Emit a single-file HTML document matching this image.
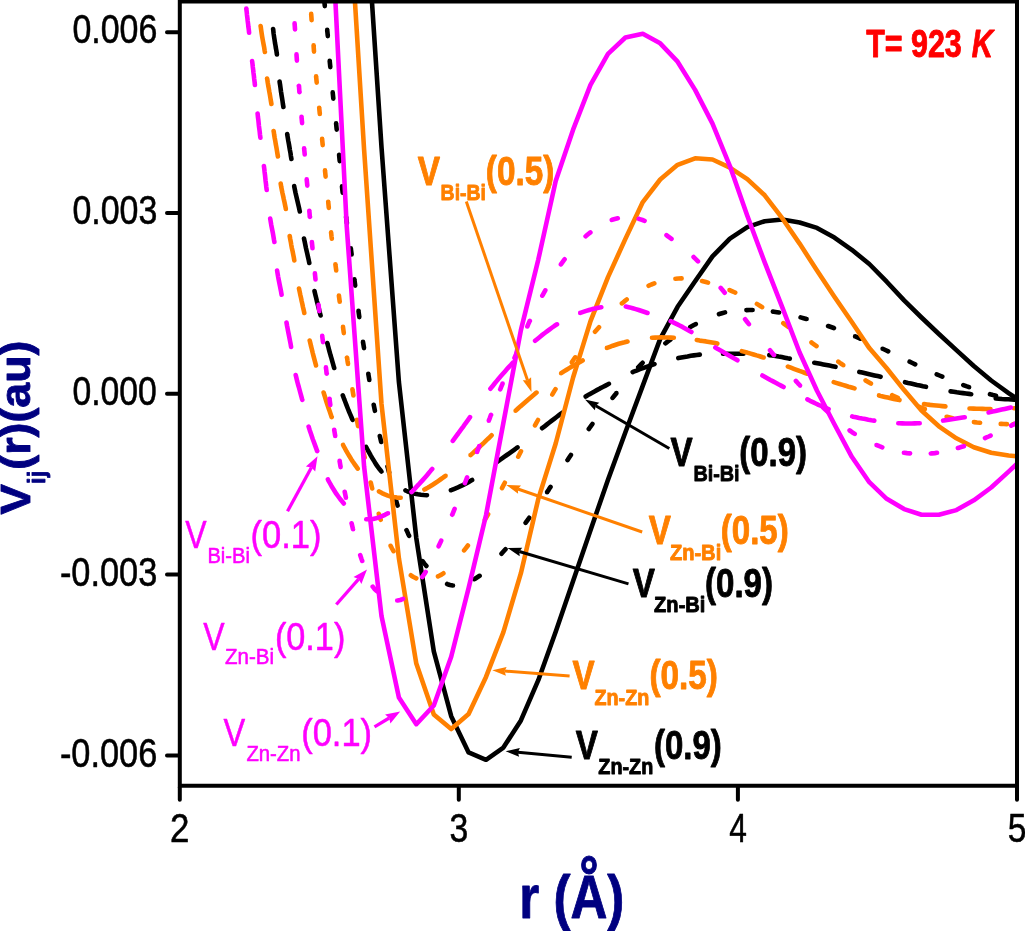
<!DOCTYPE html>
<html lang="en"><head><meta charset="utf-8"><title>Pair potentials V_ij(r), T = 923 K</title>
<style>
html,body{margin:0;padding:0;background:#fff;}
body{width:1025px;height:931px;overflow:hidden;}
svg{display:block;font-family:"Liberation Sans",Arial,Helvetica,sans-serif;}
</style></head><body>
<svg width="1025" height="931" viewBox="0 0 1025 931">
<rect width="1025" height="931" fill="#fff"/>
<defs><clipPath id="plot"><rect x="180" y="2" width="837.5" height="784"/></clipPath></defs>
<g clip-path="url(#plot)">
<path d="M370.2 -25.0 L381.5 147.1 L398.9 382.1 L416.3 538.1 L433.8 651.3 L451.2 716.2 L468.6 752.4 L486.0 759.8 L503.4 747.6 L520.9 720.4 L538.3 680.2 L555.7 631.7 L573.1 581.1 L590.5 530.2 L608.0 479.7 L625.4 432.3 L642.8 385.6 L660.2 338.9 L677.6 306.8 L695.1 281.2 L712.5 256.4 L729.9 238.6 L747.3 227.1 L764.7 221.2 L782.2 219.5 L799.6 222.5 L817.0 227.9 L834.4 237.6 L851.8 249.8 L869.3 264.0 L886.7 281.7 L904.1 300.4 L921.5 317.5 L938.9 334.0 L956.4 350.1 L973.8 366.0 L991.2 380.5 L1008.6 393.1 L1016.5 398.5" fill="none" stroke="#000" stroke-width="4.6" stroke-linejoin="round" stroke-linecap="butt"/>
<path d="M322.0 -25.0 L322.3 -22.0 L322.3 -21.9 M324.2 -0.1 L324.5 3.0 L324.8 5.9 L324.8 6.1 M327.2 29.9 L327.2 30.0 L327.5 33.0 L327.8 36.0 L327.8 36.1 M329.7 60.9 L329.7 61.0 L330.0 64.0 L330.3 67.0 L330.3 67.1 M332.7 92.4 L332.7 92.5 L333.0 95.5 L333.3 98.5 L333.3 98.6 M336.1 123.4 L336.1 123.5 L336.4 126.5 L336.7 129.5 L336.7 129.6 M339.1 154.9 L339.4 158.0 L339.7 161.1 M342.0 186.4 L342.0 186.5 L342.3 189.5 L342.7 192.6 M346.1 216.9 L346.2 217.9 L346.6 221.0 L346.9 223.1 M350.8 248.3 L350.8 248.4 L351.2 251.4 L351.6 254.4 L351.6 254.5 M354.4 279.4 L354.4 279.5 L354.8 282.5 L355.2 285.5 L355.2 285.6 M358.5 310.9 L358.5 311.0 L358.9 314.0 L359.3 317.0 L359.3 317.1 M363.0 341.9 L363.0 342.0 L363.5 345.0 L364.0 348.0 L364.0 348.1 M368.3 373.7 L368.3 373.8 L368.8 376.8 L369.3 379.8 L369.3 379.9 M373.7 404.8 L374.3 407.8 L374.9 410.8 M379.8 436.0 L380.5 439.0 L381.2 442.0 M387.5 466.5 L387.8 467.5 L388.5 470.4 L389.1 472.5 M395.8 499.6 L395.9 499.8 L396.7 502.6 L397.6 505.6 M406.5 530.2 L407.0 531.1 L408.2 533.9 L409.1 535.8 M422.5 561.1 L422.6 561.2 L424.4 563.6 L426.4 566.0 M447.1 584.0 L447.6 584.2 L450.0 585.0 L452.8 585.5 L453.0 585.5 M474.3 579.1 L475.1 578.7 L477.7 577.0 L479.6 575.8 M501.5 553.8 L502.1 553.1 L504.1 550.8 L505.5 549.2 M525.6 522.8 L525.7 522.7 L527.4 520.3 L529.2 517.8 M547.1 492.2 L547.1 492.1 L548.8 489.6 L550.4 487.1 L550.5 487.0 M567.5 460.1 L567.6 460.0 L569.2 457.5 L570.9 454.9 M588.8 429.0 L589.4 428.2 L591.2 425.7 L592.4 424.0 M612.6 397.9 L614.5 395.5 L616.4 393.2 L616.4 393.1 M638.2 367.2 L638.4 367.1 L640.4 365.0 L642.6 362.8 M665.4 343.3 L665.7 343.1 L667.9 341.4 L670.4 339.6 M690.3 327.0 L691.2 326.5 L693.9 325.0 L695.8 324.1 M719.0 314.1 L719.2 314.0 L722.0 313.2 L725.0 312.4 M746.4 310.1 L746.5 310.1 L749.5 310.0 L752.6 310.0 M772.9 311.6 L773.9 311.7 L777.0 312.2 L779.1 312.5 M800.6 317.4 L803.6 318.2 L806.5 319.0 L806.6 319.0 M828.1 326.0 L831.0 327.0 L833.8 328.0 L833.9 328.1 M855.1 336.4 L855.2 336.4 L858.0 337.6 L860.7 338.8 L860.9 338.8 M882.6 348.7 L882.7 348.7 L885.4 350.0 L888.2 351.3 M909.6 361.7 L912.4 363.0 L915.2 364.3 M936.7 374.3 L939.5 375.5 L942.3 376.7 M963.3 385.1 L966.2 386.2 L969.1 387.2 L969.1 387.3 M990.0 394.2 L990.3 394.3 L993.0 395.0 L996.0 395.7 M1013.4 398.5 L1013.5 398.5 L1016.5 399.0" fill="none" stroke="#000" stroke-width="4.6" stroke-linecap="round" stroke-linejoin="round"/>
<path d="M273.1 29.0 L273.2 29.5 L273.6 33.5 L274.1 37.0 L274.6 40.2 L275.0 43.0 L275.5 45.7 L275.9 48.3 L276.4 50.9 L276.8 53.6 L276.9 54.5 M279.6 81.5 L279.7 82.5 L280.2 85.5 L280.6 88.5 L281.0 91.6 L281.5 94.8 L282.0 97.9 L282.5 101.0 L282.9 104.0 L283.4 107.0 M287.2 134.0 L287.3 134.9 L287.8 137.9 L288.3 140.9 L288.9 144.0 L289.4 147.0 L289.9 150.1 L290.5 153.1 L290.9 156.1 L291.4 159.0 M294.2 186.0 L294.3 186.9 L294.9 189.8 L295.5 192.7 L296.2 195.7 L296.9 198.8 L297.6 201.8 L298.3 204.8 L299.0 207.7 L299.6 210.6 L299.8 211.5 M304.0 238.5 L304.2 239.4 L304.8 242.3 L305.4 245.3 L306.0 248.2 L306.7 251.2 L307.4 254.2 L308.0 257.1 L308.7 260.1 L309.3 263.0 M314.5 291.0 L314.7 291.9 L315.4 294.9 L316.1 297.8 L316.8 300.8 L317.6 303.8 L318.3 306.7 L319.1 309.7 L319.8 312.6 L320.6 315.5 M327.3 343.0 L327.5 343.9 L328.3 346.8 L329.0 349.6 L329.8 352.6 L330.6 355.5 L331.5 358.4 L332.3 361.4 L333.1 364.2 L333.9 367.1 L334.2 368.0 M342.8 395.4 L343.2 396.4 L344.2 399.2 L345.3 402.0 L346.4 404.8 L347.5 407.7 L348.6 410.5 L349.8 413.3 L351.0 416.2 L352.2 419.0 L352.6 419.9 M366.0 446.9 L366.4 447.7 L367.9 450.3 L369.3 452.9 L370.8 455.6 L372.4 458.3 L374.0 460.9 L375.6 463.6 L377.3 466.1 L379.0 468.5 L380.9 470.8 L381.4 471.5 M405.5 490.4 L405.6 490.5 L408.6 491.8 L411.7 492.8 L414.8 493.7 L417.9 494.3 L421.0 494.7 L424.0 495.0 L427.0 495.2 M450.9 490.2 L451.8 489.9 L454.5 488.8 L457.3 487.7 L460.0 486.4 L462.8 485.1 L465.6 483.7 L468.4 482.2 L471.1 480.6 L472.1 480.0 M497.1 461.9 L499.6 460.1 L502.1 458.4 L504.5 456.7 L506.9 455.0 L509.3 453.3 L511.7 451.6 L514.2 449.8 L516.6 448.0 L517.5 447.4 M542.1 428.2 L544.6 426.3 L547.0 424.4 L549.4 422.5 L551.8 420.6 L554.2 418.8 L556.6 417.0 L559.0 415.2 L561.4 413.4 L562.2 412.8 M585.7 396.5 L586.5 396.0 L589.1 394.4 L591.8 392.9 L594.5 391.4 L597.3 389.9 L600.0 388.4 L602.8 387.0 L605.5 385.6 L608.1 384.2 L608.9 383.8 M632.7 372.1 L633.6 371.7 L636.5 370.6 L639.3 369.4 L642.2 368.4 L645.1 367.3 L648.0 366.3 L650.9 365.3 L653.7 364.4 L654.5 364.1 M678.3 358.1 L681.3 357.5 L684.4 356.9 L687.5 356.4 L690.7 355.8 L693.8 355.4 L696.8 355.0 L699.8 354.6 M723.0 353.8 L724.0 353.8 L727.0 353.7 L730.0 353.7 L733.1 353.7 L736.2 353.7 L739.3 353.7 L742.4 353.8 L743.5 353.8 M769.3 355.1 L772.5 355.5 L775.6 356.0 L778.6 356.6 L781.7 357.1 L784.7 357.7 L787.7 358.3 L789.8 358.6 M814.3 362.7 L817.3 363.2 L820.4 363.8 L823.4 364.4 L826.5 365.0 L829.5 365.6 L832.5 366.2 L835.5 366.8 M859.3 371.9 L862.3 372.6 L865.3 373.3 L868.4 374.0 L871.5 374.7 L874.5 375.4 L877.6 376.1 L880.6 376.8 M905.0 382.2 L908.0 382.9 L911.0 383.5 L914.0 384.2 L917.0 384.9 L920.0 385.5 L923.0 386.2 L926.0 386.8 M950.6 391.4 L953.7 391.8 L956.8 392.3 L959.9 392.7 L963.0 393.1 L966.0 393.5 L969.1 393.9 L971.2 394.2 M995.7 398.4 L995.8 398.4 L998.9 398.7 L1002.0 399.0 L1005.1 399.2 L1008.2 399.3 L1011.3 399.5 L1014.4 399.7 L1015.5 399.7" fill="none" stroke="#000" stroke-width="4.6" stroke-linecap="round" stroke-linejoin="round"/>
<path d="M353.3 -25.0 L364.1 149.7 L381.5 403.9 L398.9 558.4 L416.3 663.6 L433.8 714.4 L451.2 729.0 L468.6 713.9 L486.0 676.9 L503.4 632.1 L520.9 573.2 L538.3 498.9 L555.7 443.5 L573.1 377.5 L590.5 321.1 L608.0 277.1 L625.4 238.9 L642.8 202.1 L660.2 179.5 L677.6 164.8 L695.1 158.3 L712.5 159.5 L729.9 167.7 L747.3 179.1 L764.7 195.3 L782.2 218.2 L799.6 243.6 L817.0 270.5 L834.4 296.8 L851.8 322.0 L869.3 348.1 L886.7 368.3 L904.1 390.1 L921.5 410.5 L938.9 426.3 L956.4 438.3 L973.8 447.2 L991.2 452.7 L1008.6 455.5 L1016.5 456.3" fill="none" stroke="#ff8000" stroke-width="4.6" stroke-linejoin="round" stroke-linecap="butt"/>
<path d="M308.5 -25.0 L308.7 -22.0 L308.7 -21.9 M311.2 13.9 L311.2 14.3 L311.4 17.0 L311.6 20.1 M313.6 45.4 L313.6 45.5 L313.8 48.5 L314.0 51.5 L314.0 51.6 M316.1 76.4 L316.1 76.5 L316.4 79.5 L316.7 82.5 L316.7 82.6 M319.2 107.7 L319.2 107.8 L319.5 110.8 L319.8 113.8 L319.8 113.9 M322.1 138.9 L322.1 139.0 L322.4 142.0 L322.7 145.0 L322.7 145.1 M325.0 170.4 L325.0 170.5 L325.3 173.5 L325.6 176.5 L325.6 176.6 M328.2 201.7 L328.2 201.8 L328.5 204.8 L328.8 207.9 M331.1 232.4 L331.2 233.4 L331.5 236.5 L331.8 238.6 M335.4 264.2 L335.4 264.3 L335.8 267.3 L336.2 270.3 L336.2 270.4 M338.9 295.5 L338.9 295.6 L339.3 298.6 L339.7 301.6 L339.7 301.7 M343.0 326.9 L343.0 327.0 L343.4 330.0 L343.8 333.0 L343.8 333.1 M347.0 357.7 L347.1 357.8 L347.5 360.8 L348.0 363.8 L348.0 363.9 M352.4 389.2 L352.4 389.3 L352.9 392.3 L353.4 395.3 L353.4 395.4 M357.0 419.9 L357.0 420.0 L357.5 423.0 L358.0 425.9 L358.1 426.0 M363.3 451.5 L363.3 451.6 L364.0 454.5 L364.7 457.5 M370.7 482.5 L371.0 483.5 L371.7 486.5 L372.2 488.5 M378.8 513.8 L379.7 516.8 L380.6 519.6 L380.7 519.8 M390.5 545.8 L390.6 545.8 L392.0 548.5 L393.5 551.2 M410.9 575.3 L411.4 575.7 L413.5 577.0 L416.3 578.3 M438.0 576.4 L438.8 576.0 L441.5 574.6 L443.4 573.3 M464.1 550.4 L464.7 549.6 L466.6 547.2 L467.9 545.5 M484.9 519.7 L485.0 519.5 L486.5 517.0 L488.1 514.3 M502.0 488.1 L503.4 485.4 L504.8 482.7 M518.2 456.7 L519.6 454.0 L521.0 451.3 M535.0 425.4 L536.5 422.7 L538.0 420.0 M552.3 394.5 L552.8 393.6 L554.4 390.9 L555.5 389.1 M571.8 362.4 L571.8 362.3 L573.5 359.8 L575.2 357.3 L575.3 357.3 M595.0 331.8 L597.0 329.5 L599.0 327.2 M621.9 303.4 L622.2 303.2 L624.3 301.4 L626.7 299.5 M648.6 285.8 L648.8 285.7 L651.4 284.5 L654.3 283.4 M675.4 278.7 L675.5 278.7 L678.5 278.5 L681.6 278.4 M702.0 281.1 L702.9 281.3 L705.9 282.0 L708.0 282.6 M729.5 290.1 L729.6 290.1 L732.4 291.3 L735.1 292.5 L735.2 292.6 M756.9 303.9 L757.7 304.4 L760.3 306.0 L762.1 307.2 M783.3 323.2 L784.1 323.8 L786.6 325.6 L788.3 326.8 M811.5 342.5 L811.6 342.6 L814.0 344.3 L816.5 346.1 M838.3 361.7 L840.8 363.5 L843.3 365.2 L843.3 365.3 M865.6 380.4 L865.7 380.5 L868.2 382.0 L870.9 383.6 M892.2 395.1 L892.3 395.2 L895.0 396.5 L897.8 397.8 M919.1 406.9 L919.2 406.9 L922.0 408.0 L924.8 409.1 L924.9 409.1 M946.6 416.7 L946.8 416.7 L949.6 417.5 L952.6 418.3 M973.9 422.1 L974.0 422.1 L977.0 422.5 L980.1 422.8 M1000.7 423.9 L1001.3 423.9 L1003.8 424.0 L1006.9 424.1 M1013.4 424.0 L1013.7 424.0 L1016.5 424.0" fill="none" stroke="#ff8000" stroke-width="4.6" stroke-linecap="round" stroke-linejoin="round"/>
<path d="M260.6 26.0 L260.7 26.4 L261.2 30.2 L261.7 33.6 L262.2 36.8 L262.7 39.7 L263.2 42.4 L263.7 45.0 L264.2 47.6 L264.6 50.3 L264.9 52.0 M267.1 78.5 L267.3 79.4 L267.7 82.4 L268.2 85.5 L268.8 88.6 L269.3 91.7 L269.9 94.9 L270.4 98.0 L270.9 101.0 L271.4 104.0 M273.6 131.0 L273.8 132.0 L274.2 135.0 L274.7 138.0 L275.3 141.1 L275.8 144.3 L276.4 147.4 L276.9 150.5 L277.4 153.5 L277.9 156.5 M280.7 183.5 L280.8 184.4 L281.3 187.3 L281.9 190.2 L282.5 193.2 L283.2 196.2 L283.8 199.3 L284.5 202.3 L285.1 205.2 L285.7 208.1 L285.8 209.0 M289.7 236.0 L290.2 239.0 L290.8 242.0 L291.3 245.1 L291.9 248.2 L292.6 251.3 L293.2 254.4 L293.8 257.4 L294.3 260.5 M299.0 288.5 L299.2 289.4 L299.8 292.4 L300.4 295.3 L301.1 298.3 L301.7 301.3 L302.4 304.2 L303.0 307.2 L303.7 310.1 L304.3 313.0 M309.7 340.5 L310.4 343.4 L311.1 346.4 L311.9 349.5 L312.6 352.5 L313.4 355.6 L314.2 358.6 L315.0 361.6 L315.8 364.6 L316.0 365.5 M323.6 392.5 L323.9 393.4 L324.8 396.3 L325.7 399.3 L326.6 402.2 L327.6 405.2 L328.6 408.2 L329.6 411.1 L330.6 414.1 L331.6 417.0 L331.7 417.1 M343.1 444.9 L343.5 445.8 L345.0 448.5 L346.4 451.2 L348.0 453.9 L349.6 456.5 L351.2 459.2 L352.9 461.8 L354.7 464.4 L356.5 466.9 L357.7 468.6 M379.0 491.4 L379.1 491.5 L381.9 493.1 L384.8 494.4 L387.8 495.6 L390.8 496.5 L393.9 497.1 L396.9 497.6 L399.8 497.8 L400.7 497.8 M424.4 489.5 L425.2 489.1 L427.7 487.8 L430.2 486.3 L432.7 484.7 L435.3 483.0 L437.8 481.3 L440.4 479.5 L443.0 477.7 L445.5 475.8 L445.6 475.8 M470.5 455.1 L470.6 455.1 L472.8 453.1 L475.1 451.0 L477.4 448.9 L479.6 446.8 L481.8 444.7 L484.1 442.6 L486.3 440.4 L488.6 438.3 L490.8 436.1 L491.6 435.3 M515.6 410.7 L515.7 410.7 L518.0 408.5 L520.3 406.4 L522.6 404.4 L524.9 402.4 L527.2 400.4 L529.5 398.5 L531.9 396.5 L534.2 394.6 L536.5 392.6 M561.1 373.2 L561.2 373.2 L563.9 371.4 L566.6 369.7 L569.2 368.1 L571.9 366.5 L574.6 365.0 L577.3 363.4 L580.0 362.0 L582.6 360.5 M606.9 347.9 L607.0 347.9 L609.9 346.8 L612.8 345.7 L615.8 344.7 L618.7 343.8 L621.7 343.0 L624.6 342.3 L627.5 341.5 M652.0 337.7 L655.1 337.6 L658.2 337.5 L661.4 337.4 L664.6 337.5 L667.7 337.5 L670.8 337.6 L673.8 337.8 M696.8 340.1 L699.8 340.6 L702.8 341.0 L705.9 341.4 L709.0 341.9 L712.1 342.5 L715.2 343.1 L717.3 343.6 M741.8 351.1 L744.7 351.9 L747.7 352.8 L750.7 353.6 L753.6 354.5 L756.6 355.4 L759.6 356.2 L762.6 357.2 L763.6 357.5 M787.9 366.6 L788.0 366.7 L790.9 367.7 L793.8 368.8 L796.6 369.8 L799.4 370.9 L802.3 371.9 L805.2 373.0 L807.4 373.7 M833.7 382.1 L836.8 383.1 L839.8 384.0 L842.7 384.9 L845.7 385.8 L848.6 386.7 L851.6 387.5 L854.5 388.4 M879.0 395.4 L879.0 395.5 L881.9 396.2 L884.8 396.9 L887.8 397.6 L890.7 398.3 L893.7 398.9 L896.6 399.5 L899.5 400.1 M924.0 404.1 L927.0 404.5 L930.1 404.9 L933.2 405.2 L936.3 405.5 L939.3 405.8 L942.4 406.1 L945.4 406.4 M969.5 408.5 L970.5 408.5 L973.5 408.6 L976.5 408.8 L979.5 408.8 L982.6 408.9 L985.6 409.0 L988.6 409.0 L990.5 409.0 M1014.0 408.3 L1015.5 408.3 L1015.5 408.2" fill="none" stroke="#ff8000" stroke-width="4.6" stroke-linecap="round" stroke-linejoin="round"/>
<path d="M334.1 -25.0 L346.7 226.1 L364.1 466.6 L381.5 615.9 L398.9 697.5 L416.3 724.2 L433.8 705.5 L451.2 656.7 L468.6 588.1 L486.0 515.3 L503.4 422.8 L520.9 330.1 L538.3 259.6 L555.7 181.1 L573.1 129.7 L590.5 84.9 L608.0 53.9 L625.4 37.5 L642.8 33.8 L660.2 43.3 L677.6 61.7 L695.1 89.9 L712.5 123.6 L729.9 166.1 L747.3 215.8 L764.7 262.4 L782.2 307.1 L799.6 352.5 L817.0 390.8 L834.4 424.2 L851.8 456.8 L869.3 482.2 L886.7 498.8 L904.1 509.1 L921.5 514.7 L938.9 514.8 L956.4 510.1 L973.8 500.3 L991.2 487.5 L1008.6 471.6 L1016.5 464.3" fill="none" stroke="#ff00ff" stroke-width="4.6" stroke-linejoin="round" stroke-linecap="butt"/>
<path d="M291.5 -25.0 L291.7 -21.9 M294.6 23.2 L294.6 23.8 L294.8 26.3 L295.0 29.4 M296.5 54.4 L296.5 54.6 L296.7 57.5 L296.9 60.5 L296.9 60.6 M298.9 85.9 L299.0 86.0 L299.2 89.0 L299.4 92.0 L299.5 92.1 M301.5 116.9 L301.5 117.0 L301.8 120.0 L302.1 123.0 L302.1 123.1 M304.1 148.2 L304.1 148.3 L304.4 151.3 L304.7 154.3 L304.7 154.4 M306.7 179.4 L306.7 179.5 L307.0 182.5 L307.3 185.5 L307.3 185.6 M309.3 210.7 L309.3 210.8 L309.6 213.8 L309.8 216.8 L309.9 216.9 M311.9 242.1 L311.9 242.2 L312.2 245.2 L312.5 248.2 L312.5 248.3 M314.9 273.3 L314.9 273.4 L315.2 276.4 L315.5 279.4 L315.5 279.5 M318.5 304.9 L318.5 305.0 L318.9 308.0 L319.3 311.0 L319.3 311.1 M322.2 335.9 L322.2 336.0 L322.6 339.0 L323.0 342.0 L323.0 342.1 M325.9 367.4 L325.9 367.5 L326.3 370.5 L326.6 373.5 L326.7 373.6 M329.5 398.7 L329.5 398.8 L329.9 401.8 L330.3 404.8 L330.3 404.9 M334.2 429.7 L334.2 429.8 L334.7 432.8 L335.2 435.8 L335.2 435.9 M339.6 460.9 L339.6 461.0 L340.1 464.0 L340.6 467.0 L340.6 467.1 M344.7 491.8 L345.3 494.8 L345.9 497.7 L345.9 497.8 M351.6 523.3 L352.3 526.3 L353.0 529.3 L353.1 529.3 M360.2 555.1 L360.5 556.0 L361.5 559.0 L362.2 560.9 M372.7 586.6 L372.9 586.9 L374.6 589.0 L376.8 591.2 M397.2 600.5 L397.5 600.5 L400.3 600.0 L402.5 599.1 L403.1 598.8 M422.2 577.0 L422.8 576.2 L424.6 573.7 L425.7 571.9 M438.6 546.3 L439.9 543.5 L441.2 540.7 M452.2 514.7 L452.3 514.6 L453.4 511.8 L454.6 508.9 M464.9 483.2 L466.0 480.3 L467.1 477.4 M477.1 451.9 L477.1 451.8 L478.2 449.0 L479.3 446.2 L479.3 446.1 M488.8 420.7 L488.8 420.6 L489.9 417.8 L490.9 415.0 L491.0 414.9 M500.2 389.3 L500.3 389.2 L501.4 386.4 L502.6 383.6 L502.6 383.5 M514.5 358.0 L515.7 355.2 L516.9 352.4 L516.9 352.3 M527.2 326.5 L527.3 326.5 L528.5 323.7 L529.7 321.0 L529.8 320.9 M542.3 295.7 L542.8 294.8 L544.3 292.1 L545.3 290.3 M560.9 264.3 L562.7 261.8 L564.5 259.4 L564.6 259.3 M585.6 236.3 L585.9 236.1 L588.0 234.3 L590.4 232.4 M611.8 219.9 L612.1 219.8 L614.8 219.0 L617.8 218.3 M638.7 218.8 L639.6 219.1 L642.5 220.0 L644.6 220.8 M666.5 235.2 L667.3 235.8 L669.8 237.6 L671.5 238.8 M693.6 257.0 L694.2 257.7 L696.5 259.9 L698.0 261.4 M720.7 287.9 L720.8 288.0 L722.7 290.3 L724.7 292.7 M745.1 319.3 L747.0 321.7 L748.9 324.1 M770.0 350.3 L772.0 352.7 L773.9 355.0 L774.0 355.1 M795.9 381.0 L796.0 381.1 L798.0 383.3 L800.1 385.5 L800.1 385.6 M823.2 407.7 L823.4 407.9 L825.5 409.8 L827.8 411.9 M849.6 430.4 L849.7 430.5 L852.1 432.2 L854.7 433.9 M876.5 445.1 L876.7 445.1 L879.4 446.2 L882.3 447.3 M903.9 452.7 L904.1 452.7 L907.0 453.1 L910.1 453.4 M930.8 453.5 L931.8 453.4 L934.9 453.1 L937.0 452.8 M957.9 448.0 L958.9 447.7 L961.9 446.8 L963.9 446.2 M985.0 438.1 L985.9 437.7 L988.7 436.5 L990.6 435.6 M1011.2 425.6 L1011.6 425.4 L1013.5 424.5 L1016.7 422.9 M1014.2 424.1 L1016.7 422.9 L1016.5 423.0" fill="none" stroke="#ff00ff" stroke-width="4.6" stroke-linecap="round" stroke-linejoin="round"/>
<path d="M246.3 8.5 L246.3 8.6 L246.7 11.9 L247.0 15.0 L247.4 18.1 L247.7 21.0 L248.1 24.0 L248.4 26.9 L248.8 29.8 L249.1 32.8 M252.1 61.0 L252.5 64.0 L252.8 67.0 L253.2 70.0 L253.5 73.0 L253.9 76.0 L254.2 79.0 L254.6 82.0 L254.9 85.0 M257.6 113.5 L257.9 116.6 L258.3 119.6 L258.6 122.6 L258.9 125.7 L259.3 128.7 L259.7 131.7 L260.0 134.8 L260.4 137.8 M263.9 166.0 L264.3 169.0 L264.6 172.0 L265.0 175.0 L265.3 178.0 L265.6 181.0 L266.0 184.0 L266.3 187.0 L266.7 190.0 M270.2 218.5 L270.7 221.6 L271.2 224.7 L271.8 227.7 L272.4 230.8 L273.0 233.8 L273.5 236.8 L274.0 239.9 L274.4 242.0 M277.1 270.5 L277.6 273.6 L278.1 276.6 L278.7 279.7 L279.3 282.7 L279.9 285.7 L280.5 288.8 L281.1 291.8 L281.6 294.8 M286.5 322.5 L287.0 325.5 L287.6 328.6 L288.2 331.7 L288.8 334.7 L289.4 337.8 L290.0 340.9 L290.6 343.9 L291.1 347.0 M295.7 375.0 L296.4 377.9 L297.1 380.9 L297.9 384.0 L298.8 387.0 L299.6 390.0 L300.4 393.0 L301.2 395.9 L302.0 398.9 L302.3 399.8 M308.6 426.6 L308.9 427.5 L309.8 430.4 L310.8 433.3 L311.8 436.2 L312.8 439.2 L313.9 442.1 L315.0 445.1 L316.1 448.1 L317.1 451.0 L317.2 451.1 M327.9 479.4 L328.3 480.3 L329.8 483.0 L331.3 485.7 L333.0 488.4 L334.7 491.2 L336.4 493.9 L338.3 496.5 L340.1 499.0 L342.0 501.3 L343.8 503.5 M366.3 519.2 L367.2 519.3 L370.1 519.3 L373.0 519.0 L376.0 518.3 L379.0 517.4 L382.0 516.2 L385.0 514.8 L387.9 513.2 L388.0 513.2 M411.6 492.0 L412.3 491.3 L414.4 489.1 L416.4 486.9 L418.5 484.7 L420.6 482.4 L422.7 480.1 L424.8 477.7 L426.8 475.4 L428.8 473.0 L430.8 470.6 L432.2 469.0 M452.8 440.9 L454.6 438.4 L456.4 435.9 L458.2 433.5 L459.9 431.1 L461.7 428.7 L463.5 426.3 L465.2 423.8 L467.0 421.4 L468.8 418.9 L470.0 417.2 M490.4 388.7 L491.0 388.0 L492.9 385.7 L494.8 383.3 L496.8 380.9 L498.8 378.5 L500.9 376.1 L502.9 373.8 L505.0 371.4 L507.0 369.1 L509.0 366.9 L511.0 364.8 L512.8 362.7 M535.1 340.8 L537.4 338.9 L539.8 336.9 L542.3 334.9 L544.8 333.0 L547.3 331.1 L549.7 329.3 L552.2 327.5 L554.6 325.8 L557.0 324.3 M580.2 312.9 L580.3 312.9 L583.2 311.9 L586.2 310.9 L589.2 310.0 L592.3 309.1 L595.3 308.4 L598.3 307.7 L601.3 307.2 M625.8 306.6 L626.7 306.8 L629.7 307.4 L632.7 308.2 L635.7 309.1 L638.7 310.0 L641.7 311.0 L644.7 312.0 L647.5 313.0 M670.7 321.2 L671.6 321.6 L674.2 322.8 L676.9 324.1 L679.6 325.5 L682.4 326.9 L685.1 328.4 L687.8 329.9 L690.5 331.5 L691.4 332.0 M715.4 347.5 L717.9 349.1 L720.6 350.6 L723.2 352.1 L725.9 353.7 L728.6 355.2 L731.2 356.7 L733.9 358.2 L736.6 359.8 L737.4 360.3 M762.4 375.5 L765.1 377.0 L767.7 378.5 L770.4 380.0 L773.1 381.4 L775.7 382.8 L778.4 384.3 L781.0 385.6 L783.6 387.0 M807.4 399.4 L810.1 400.8 L812.9 402.1 L815.7 403.5 L818.5 404.8 L821.3 406.0 L824.0 407.3 L826.8 408.4 L828.6 409.1 M852.2 416.4 L853.1 416.7 L856.1 417.3 L859.1 418.0 L862.2 418.6 L865.3 419.1 L868.4 419.7 L871.4 420.2 L874.3 420.6 M898.3 423.3 L899.3 423.3 L902.3 423.4 L905.4 423.5 L908.5 423.5 L911.6 423.5 L914.7 423.4 L917.7 423.3 L919.7 423.3 M943.1 420.6 L944.1 420.4 L947.1 420.0 L950.2 419.5 L953.3 419.0 L956.5 418.5 L959.6 418.0 L962.7 417.5 L964.7 417.2 M988.6 412.5 L989.5 412.3 L992.5 411.6 L995.5 411.0 L998.6 410.3 L1001.7 409.6 L1004.7 408.9 L1007.8 408.2 L1010.9 407.5" fill="none" stroke="#ff00ff" stroke-width="4.6" stroke-linecap="round" stroke-linejoin="round"/>
</g>
<path d="M179.8 1.6 H1017.0 V785.8 H179.8 Z" fill="none" stroke="#000" stroke-width="4" stroke-linejoin="miter"/>
<path d="M178.3 32.2 H167.0 M178.3 213.0 H167.0 M178.3 393.8 H167.0 M178.3 574.6 H167.0 M178.3 755.4 H167.0 M179.8 787.3 V799.8 M458.8 787.3 V799.8 M737.9 787.3 V799.8 M1017.0 787.3 V799.8" stroke="#000" stroke-width="4" stroke-linecap="round" fill="none"/>
<text transform="translate(72.4 43.3) scale(0.837 1)" font-size="40.6" fill="#000" font-weight="normal" font-style="normal" text-anchor="start" stroke="#000" stroke-width="0.55" stroke-linejoin="round">0.006</text>
<text transform="translate(72.4 224.1) scale(0.837 1)" font-size="40.6" fill="#000" font-weight="normal" font-style="normal" text-anchor="start" stroke="#000" stroke-width="0.55" stroke-linejoin="round">0.003</text>
<text transform="translate(72.4 404.9) scale(0.831 1)" font-size="40.6" fill="#000" font-weight="normal" font-style="normal" text-anchor="start" stroke="#000" stroke-width="0.55" stroke-linejoin="round">0.000</text>
<text transform="translate(59.9 585.7) scale(0.846 1)" font-size="40.6" fill="#000" font-weight="normal" font-style="normal" text-anchor="start" stroke="#000" stroke-width="0.55" stroke-linejoin="round">-0.003</text>
<text transform="translate(59.9 766.5) scale(0.846 1)" font-size="40.6" fill="#000" font-weight="normal" font-style="normal" text-anchor="start" stroke="#000" stroke-width="0.55" stroke-linejoin="round">-0.006</text>
<text transform="translate(170.0 841.9) scale(0.860 1)" font-size="40.6" fill="#000" font-weight="normal" font-style="normal" text-anchor="start" stroke="#000" stroke-width="0.55" stroke-linejoin="round">2</text>
<text transform="translate(449.6 841.9) scale(0.832 1)" font-size="40.6" fill="#000" font-weight="normal" font-style="normal" text-anchor="start" stroke="#000" stroke-width="0.55" stroke-linejoin="round">3</text>
<text transform="translate(729.2 841.9) scale(0.781 1)" font-size="40.6" fill="#000" font-weight="normal" font-style="normal" text-anchor="start" stroke="#000" stroke-width="0.55" stroke-linejoin="round">4</text>
<text transform="translate(1007.8 841.9) scale(0.832 1)" font-size="40.6" fill="#000" font-weight="normal" font-style="normal" text-anchor="start" stroke="#000" stroke-width="0.55" stroke-linejoin="round">5</text>
<text transform="translate(519.3 918.4) scale(0.830 1)" font-size="61.6" fill="#000080" font-weight="bold" stroke="#000080" stroke-width="0.9" stroke-linejoin="round">r (<tspan>A</tspan><tspan font-size="97" dx="-22.2" dy="9.2">̊</tspan><tspan dx="22.2" dy="-9.2">)</tspan></text>
<text transform="translate(29.7 514.5) rotate(-90) scale(1.062 1)" font-size="43.0" fill="#000080" font-weight="bold" stroke="#000080" stroke-width="0.90" stroke-linejoin="round">V</text>
<text transform="translate(44.9 483.9) rotate(-90) scale(0.956 1)" font-size="24.6" fill="#000080" font-weight="bold" stroke="#000080" stroke-width="0.90" stroke-linejoin="round">ij</text>
<text transform="translate(29.7 469.7) rotate(-90) scale(1.040 1)" font-size="43.0" fill="#000080" font-weight="bold" stroke="#000080" stroke-width="0.90" stroke-linejoin="round">(r)(au)</text>
<text transform="translate(866.2 56.5) scale(0.803 1)" font-size="37.9" fill="#ff0000" font-weight="bold" font-style="normal" text-anchor="start" stroke="#ff0000" stroke-width="0.90" stroke-linejoin="round">T= 923</text>
<text transform="translate(971.8 56.5) scale(0.776 1)" font-size="37.9" fill="#ff0000" font-weight="bold" font-style="italic" text-anchor="start" stroke="#ff0000" stroke-width="0.90" stroke-linejoin="round">K</text>
<line x1="466.3" y1="201.4" x2="527.5" y2="380.3" stroke="#ff8000" stroke-width="3.0"/><path d="M531.5 392.0 L522.8 380.2 L527.5 380.3 L531.1 377.3Z" fill="#ff8000"/>
<line x1="669.3" y1="448.5" x2="595.7" y2="405.7" stroke="#000" stroke-width="3.0"/><path d="M585.0 399.5 L599.3 402.7 L595.7 405.7 L594.9 410.3Z" fill="#000"/>
<line x1="642.2" y1="532.0" x2="517.9" y2="489.0" stroke="#ff8000" stroke-width="3.0"/><path d="M506.3 485.0 L521.0 485.4 L517.9 489.0 L518.1 493.7Z" fill="#ff8000"/>
<line x1="628.5" y1="583.9" x2="519.3" y2="551.5" stroke="#000" stroke-width="3.0"/><path d="M507.5 548.0 L522.2 547.8 L519.3 551.5 L519.7 556.2Z" fill="#000"/>
<line x1="569.6" y1="676.1" x2="504.6" y2="671.1" stroke="#ff8000" stroke-width="3.0"/><path d="M492.3 670.2 L506.6 666.9 L504.6 671.1 L505.9 675.7Z" fill="#ff8000"/>
<line x1="571.7" y1="757.2" x2="517.9" y2="752.3" stroke="#000" stroke-width="3.0"/><path d="M505.6 751.2 L519.9 748.1 L517.9 752.3 L519.1 756.8Z" fill="#000"/>
<line x1="287.5" y1="511.3" x2="311.4" y2="467.5" stroke="#ff00ff" stroke-width="3.3"/><path d="M317.5 456.3 L315.2 471.5 L311.4 467.5 L305.9 466.5Z" fill="#ff00ff"/>
<line x1="336.3" y1="604.5" x2="358.6" y2="579.1" stroke="#ff00ff" stroke-width="3.3"/><path d="M367.0 569.5 L361.4 583.9 L358.6 579.1 L353.5 576.9Z" fill="#ff00ff"/>
<line x1="374.5" y1="726.8" x2="389.2" y2="718.0" stroke="#ff00ff" stroke-width="3.3"/><path d="M400.2 711.5 L390.4 723.4 L389.2 718.0 L385.1 714.4Z" fill="#ff00ff"/>
<text transform="translate(417.8 185.1) scale(0.826 1)" font-size="40.5" fill="#ff8000" font-weight="bold" font-style="normal" text-anchor="start" stroke="#ff8000" stroke-width="0.90" stroke-linejoin="round">V</text><text transform="translate(440.6 200.0) scale(0.860 1)" font-size="22.6" fill="#ff8000" font-weight="bold" font-style="normal" text-anchor="start" stroke="#ff8000" stroke-width="0.90" stroke-linejoin="round">Bi-Bi</text><text transform="translate(485.8 185.1) scale(0.822 1)" font-size="40.5" fill="#ff8000" font-weight="bold" font-style="normal" text-anchor="start" stroke="#ff8000" stroke-width="0.90" stroke-linejoin="round">(0.5)</text>
<text transform="translate(670.5 466.1) scale(0.819 1)" font-size="40.5" fill="#000" font-weight="bold" font-style="normal" text-anchor="start" stroke="#000" stroke-width="0.90" stroke-linejoin="round">V</text><text transform="translate(693.4 481.1) scale(0.876 1)" font-size="22.6" fill="#000" font-weight="bold" font-style="normal" text-anchor="start" stroke="#000" stroke-width="0.90" stroke-linejoin="round">Bi-Bi</text><text transform="translate(739.3 466.1) scale(0.814 1)" font-size="40.5" fill="#000" font-weight="bold" font-style="normal" text-anchor="start" stroke="#000" stroke-width="0.90" stroke-linejoin="round">(0.9)</text>
<text transform="translate(648.7 544.3) scale(0.819 1)" font-size="40.5" fill="#ff8000" font-weight="bold" font-style="normal" text-anchor="start" stroke="#ff8000" stroke-width="0.90" stroke-linejoin="round">V</text><text transform="translate(669.9 559.6) scale(0.889 1)" font-size="22.6" fill="#ff8000" font-weight="bold" font-style="normal" text-anchor="start" stroke="#ff8000" stroke-width="0.90" stroke-linejoin="round">Zn-Bi</text><text transform="translate(720.8 544.3) scale(0.816 1)" font-size="40.5" fill="#ff8000" font-weight="bold" font-style="normal" text-anchor="start" stroke="#ff8000" stroke-width="0.90" stroke-linejoin="round">(0.5)</text>
<text transform="translate(632.8 596.5) scale(0.819 1)" font-size="40.5" fill="#000" font-weight="bold" font-style="normal" text-anchor="start" stroke="#000" stroke-width="0.90" stroke-linejoin="round">V</text><text transform="translate(654.1 612.3) scale(0.889 1)" font-size="22.6" fill="#000" font-weight="bold" font-style="normal" text-anchor="start" stroke="#000" stroke-width="0.90" stroke-linejoin="round">Zn-Bi</text><text transform="translate(705.0 596.5) scale(0.816 1)" font-size="40.5" fill="#000" font-weight="bold" font-style="normal" text-anchor="start" stroke="#000" stroke-width="0.90" stroke-linejoin="round">(0.9)</text>
<text transform="translate(572.6 689.3) scale(0.819 1)" font-size="40.5" fill="#ff8000" font-weight="bold" font-style="normal" text-anchor="start" stroke="#ff8000" stroke-width="0.90" stroke-linejoin="round">V</text><text transform="translate(594.4 705.1) scale(0.876 1)" font-size="22.6" fill="#ff8000" font-weight="bold" font-style="normal" text-anchor="start" stroke="#ff8000" stroke-width="0.90" stroke-linejoin="round">Zn-Zn</text><text transform="translate(649.5 689.3) scale(0.822 1)" font-size="40.5" fill="#ff8000" font-weight="bold" font-style="normal" text-anchor="start" stroke="#ff8000" stroke-width="0.90" stroke-linejoin="round">(0.5)</text>
<text transform="translate(575.8 758.6) scale(0.819 1)" font-size="40.5" fill="#000" font-weight="bold" font-style="normal" text-anchor="start" stroke="#000" stroke-width="0.90" stroke-linejoin="round">V</text><text transform="translate(598.3 773.6) scale(0.876 1)" font-size="22.6" fill="#000" font-weight="bold" font-style="normal" text-anchor="start" stroke="#000" stroke-width="0.90" stroke-linejoin="round">Zn-Zn</text><text transform="translate(654.0 758.6) scale(0.814 1)" font-size="40.5" fill="#000" font-weight="bold" font-style="normal" text-anchor="start" stroke="#000" stroke-width="0.90" stroke-linejoin="round">(0.9)</text>
<text transform="translate(185.2 548.0) scale(0.812 1)" font-size="39.5" fill="#ff00ff" font-weight="normal" font-style="normal" text-anchor="start" stroke="#ff00ff" stroke-width="0.55" stroke-linejoin="round">V</text><text transform="translate(207.4 563.0) scale(0.907 1)" font-size="22.2" fill="#ff00ff" font-weight="normal" font-style="normal" text-anchor="start" stroke="#ff00ff" stroke-width="0.55" stroke-linejoin="round">Bi-Bi</text><text transform="translate(250.6 548.0) scale(0.874 1)" font-size="39.5" fill="#ff00ff" font-weight="normal" font-style="normal" text-anchor="start" stroke="#ff00ff" stroke-width="0.55" stroke-linejoin="round">(0.1)</text>
<text transform="translate(203.2 649.5) scale(0.812 1)" font-size="39.5" fill="#ff00ff" font-weight="normal" font-style="normal" text-anchor="start" stroke="#ff00ff" stroke-width="0.55" stroke-linejoin="round">V</text><text transform="translate(225.1 663.8) scale(0.924 1)" font-size="22.2" fill="#ff00ff" font-weight="normal" font-style="normal" text-anchor="start" stroke="#ff00ff" stroke-width="0.55" stroke-linejoin="round">Zn-Bi</text><text transform="translate(274.9 649.5) scale(0.867 1)" font-size="39.5" fill="#ff00ff" font-weight="normal" font-style="normal" text-anchor="start" stroke="#ff00ff" stroke-width="0.55" stroke-linejoin="round">(0.1)</text>
<text transform="translate(223.6 746.2) scale(0.824 1)" font-size="39.5" fill="#ff00ff" font-weight="normal" font-style="normal" text-anchor="start" stroke="#ff00ff" stroke-width="0.55" stroke-linejoin="round">V</text><text transform="translate(246.4 760.7) scale(0.914 1)" font-size="22.2" fill="#ff00ff" font-weight="normal" font-style="normal" text-anchor="start" stroke="#ff00ff" stroke-width="0.55" stroke-linejoin="round">Zn-Zn</text><text transform="translate(301.2 746.2) scale(0.872 1)" font-size="39.5" fill="#ff00ff" font-weight="normal" font-style="normal" text-anchor="start" stroke="#ff00ff" stroke-width="0.55" stroke-linejoin="round">(0.1)</text>
</svg>
</body></html>
